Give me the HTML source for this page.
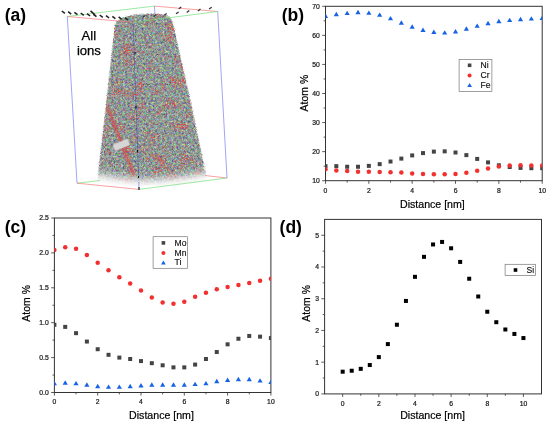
<!DOCTYPE html>
<html><head><meta charset="utf-8"><title>Figure</title>
<style>html,body{margin:0;padding:0;background:#fff}svg{display:block}</style></head>
<body>
<svg width="550" height="426" viewBox="0 0 550 426" style="font-family:'Liberation Sans',sans-serif">
<rect width="550" height="426" fill="#fff"/>
<defs>
<filter id="nz" x="0" y="0" width="100%" height="100%" color-interpolation-filters="sRGB"><feTurbulence type="fractalNoise" baseFrequency="0.9" numOctaves="1" seed="7" result="ta"/><feColorMatrix in="ta" type="matrix" values="1 0 0 0 0  0 1 0 0 0  0 0 1 0 0  0 0 0 0 1" result="a"/><feTurbulence type="fractalNoise" baseFrequency="0.43" numOctaves="1" seed="31" result="tb"/><feColorMatrix in="tb" type="matrix" values="1 0 0 0 0  0 1 0 0 0  0 0 1 0 0  0 0 0 0 1" result="b"/><feComposite in="a" in2="b" operator="arithmetic" k1="0" k2="0.7" k3="0.78" k4="-0.165" result="m"/><feColorMatrix in="m" type="matrix" values="1 0 0 0 -0.025  0 1 0 0 0.025  0 0 1 0 0.010  0 0 0 0 1" result="c9"/><feColorMatrix in="c9" type="saturate" values="0.78" result="c"/><feTurbulence type="fractalNoise" baseFrequency="0.09" numOctaves="2" seed="11" result="lf"/><feColorMatrix in="lf" type="matrix" values="0 0 0 0 0.92  0 0 0 0 0.25  0 0 0 0 0.22  3.2 0 0 0 -1.62" result="red"/><feTurbulence type="fractalNoise" baseFrequency="0.7" numOctaves="1" seed="23" result="hf"/><feColorMatrix in="hf" type="matrix" values="0 0 0 0 1  0 0 0 0 1  0 0 0 0 1  0 6 0 0 -2.75" result="hfa"/><feComposite in="red" in2="hfa" operator="in" result="redn"/><feComposite in="redn" in2="c" operator="over" result="cc"/><feGaussianBlur in="SourceGraphic" stdDeviation="1.1" result="sg"/><feTurbulence type="fractalNoise" baseFrequency="0.9" numOctaves="1" seed="5" result="en"/><feColorMatrix in="en" type="matrix" values="0 0 0 0 0  0 0 0 0 0  0 0 0 0 0  0 0 0 2.2 -0.6" result="ena"/><feComposite in="sg" in2="ena" operator="arithmetic" k1="0" k2="2" k3="0.8" k4="-1" result="sga"/><feComposite in="cc" in2="sga" operator="in"/></filter>
<filter id="mb" x="-10%" y="-10%" width="120%" height="120%"><feGaussianBlur stdDeviation="4"/></filter>
<mask id="cm" maskUnits="userSpaceOnUse" x="80" y="0" width="150" height="200" style="mask-type:luminance"><path d="M70 -20H240V166Q215 171 190 175.5Q160 180.5 139 179.5Q115 178 70 169Z" fill="#fff" filter="url(#mb)"/></mask>
<filter id="bl1"><feGaussianBlur stdDeviation="0.9"/></filter>
</defs>
<g fill="none" stroke-width="0.7">
<path d="M67.3 16.5L154.4 6.1" stroke="#72e07a"/>
<path d="M154.4 6.1L217.7 11.5" stroke="#f47a7a"/>
<path d="M154.4 6.1L155 14" stroke="#7d7df2"/>
<path d="M227 178L205 175.5" stroke="#f47a7a"/>
<path d="M77 183.2L100 180.5" stroke="#72e07a"/>
</g>
<g mask="url(#cm)"><path d="M114.8 24 Q117 18.5 130 15.3 Q147 12.6 163 14 Q170.5 15.4 172.6 21.5 L192 107 L208.5 186 L96.5 186 L105.6 107 Z" fill="#000" filter="url(#nz)"/>
<clipPath id="cc"><path d="M114.8 24 Q117 18.5 130 15.3 Q147 12.6 163 14 Q170.5 15.4 172.6 21.5 L192 107 L208.5 186 L96.5 186 L105.6 107 Z"/></clipPath>
<g clip-path="url(#cc)"><g filter="url(#bl1)" stroke="#f03030" fill="none" stroke-linecap="round">
<path d="M107 106L134 175" stroke-width="2" opacity="0.85"/>
<path d="M152 154L179 179" stroke-width="2" opacity="0.35"/>
</g></g>
<path d="M133 22L139 186" stroke="#3838b8" stroke-width="0.9" opacity="0.48" fill="none"/>
<path d="M135 52v2.5M136 106v2.5M137.5 150v2.5" stroke="#111" stroke-width="1.1" fill="none"/>
</g>
<g fill="none" stroke-width="0.7">
<path d="M67.3 16.5L77 183.2" stroke="#7d7df2"/>
<path d="M217.7 11.5L227 178" stroke="#7d7df2"/>
<path d="M138.8 182L139 189.4" stroke="#7d7df2"/>
<path d="M67.3 16.5L133 22.4" stroke="#f47a7a"/>
<path d="M133 22.4L217.7 11.5" stroke="#72e07a"/>
<path d="M77 183.2L139 189.4" stroke="#f47a7a"/>
<path d="M139 189.4L227 178" stroke="#72e07a"/>
</g>
<path d="M61.8 11.0l3.1 2.4M68.1 11.7l3.1 2.4M74.4 12.3l3.1 2.4M80.7 13.0l3.1 2.4M87.0 13.6l3.1 2.4M93.4 14.3l3.1 2.4M99.7 15.0l3.1 2.4M106.0 15.6l3.1 2.4M112.3 16.3l3.1 2.4M118.6 16.9l3.1 2.4M125.0 17.6l3.1 2.4M90.5 10.8l4.5 4" stroke="#222" stroke-width="1.55" fill="none"/>
<path d="M142.7 17.3l2.6 -1.9M153.7 16.4l2.6 -1.9M164.1 15.3l2.6 -1.9M176.0 13.8l2.6 -1.9M178.7 8.8l2.6 -1.9M186.7 12.4l2.6 -1.9M197.9 11.0l2.6 -1.9M209.1 9.1l2.6 -1.9" stroke="#333" stroke-width="1.25" fill="none"/>
<path d="M139 187v3M138.5 176v2" stroke="#111" stroke-width="1.1" fill="none"/>
<rect x="-8" y="-3.2" width="16" height="6.4" rx="1" fill="#d6d6d6" stroke="#bdbdbd" stroke-width="0.4" transform="translate(121.3 144.8) rotate(-22)"/>
<text font-size="13.1" fill="#000" stroke="#000" stroke-width="0.25" text-anchor="middle"><tspan x="88.8" y="40.4">All</tspan><tspan x="88.9" y="55.1">ions</tspan></text>
<g>
<rect x="325.5" y="6.3" width="216.7" height="174.4" fill="none" stroke="#333333" stroke-width="1"/>
<path d="M325.5 180.7v3.1M368.84 180.7v3.1M412.18 180.7v3.1M455.52 180.7v3.1M498.86 180.7v3.1M542.2 180.7v3.1M347.17 180.7v1.9M390.51 180.7v1.9M433.85 180.7v1.9M477.19 180.7v1.9M520.53 180.7v1.9M325.5 180.7h-3.3M325.5 151.63h-3.3M325.5 122.57h-3.3M325.5 93.5h-3.3M325.5 64.43h-3.3M325.5 35.37h-3.3M325.5 6.3h-3.3M325.5 166.17h-1.9M325.5 137.1h-1.9M325.5 108.03h-1.9M325.5 78.97h-1.9M325.5 49.9h-1.9M325.5 20.83h-1.9" stroke="#333333" stroke-width="0.8" fill="none"/>
<g font-size="6.8" fill="#1a1a1a" stroke="#1a1a1a" stroke-width="0.22" text-anchor="middle">
<text x="325.5" y="192.5">0</text>
<text x="368.84" y="192.5">2</text>
<text x="412.18" y="192.5">4</text>
<text x="455.52" y="192.5">6</text>
<text x="498.86" y="192.5">8</text>
<text x="542.2" y="192.5">10</text>
</g>
<g font-size="6.8" fill="#1a1a1a" stroke="#1a1a1a" stroke-width="0.22" text-anchor="end">
<text x="319.9" y="183.15">10</text>
<text x="319.9" y="154.08">20</text>
<text x="319.9" y="125.02">30</text>
<text x="319.9" y="95.95">40</text>
<text x="319.9" y="66.88">50</text>
<text x="319.9" y="37.82">60</text>
<text x="319.9" y="8.75">70</text>
</g>
<text x="432.4" y="207.5" font-size="10.6" fill="#000" stroke="#000" stroke-width="0.2" text-anchor="middle">Distance [nm]</text>
<text transform="translate(307.8 93.1) rotate(-90)" font-size="10.4" letter-spacing="0.1" fill="#000" stroke="#000" stroke-width="0.2" text-anchor="middle">Atom %</text>
<clipPath id="cp331"><rect x="325.5" y="6.3" width="216.7" height="174.4"/></clipPath>
<g clip-path="url(#cp331)">
<polygon points="325.5,13.58 322.9,17.98 328.1,17.98" fill="#1763e6"/>
<polygon points="336.33,11.84 333.73,16.24 338.94,16.24" fill="#1763e6"/>
<polygon points="347.17,10.68 344.57,15.08 349.77,15.08" fill="#1763e6"/>
<polygon points="358,9.8 355.4,14.2 360.61,14.2" fill="#1763e6"/>
<polygon points="368.84,10.39 366.24,14.79 371.44,14.79" fill="#1763e6"/>
<polygon points="379.68,12.42 377.07,16.82 382.28,16.82" fill="#1763e6"/>
<polygon points="390.51,15.91 387.91,20.31 393.11,20.31" fill="#1763e6"/>
<polygon points="401.35,20.27 398.75,24.67 403.95,24.67" fill="#1763e6"/>
<polygon points="412.18,24.34 409.58,28.74 414.78,28.74" fill="#1763e6"/>
<polygon points="423.02,27.53 420.42,31.93 425.62,31.93" fill="#1763e6"/>
<polygon points="433.85,29.57 431.25,33.97 436.45,33.97" fill="#1763e6"/>
<polygon points="444.69,30.15 442.09,34.55 447.29,34.55" fill="#1763e6"/>
<polygon points="455.52,28.99 452.92,33.39 458.12,33.39" fill="#1763e6"/>
<polygon points="466.36,26.37 463.75,30.77 468.96,30.77" fill="#1763e6"/>
<polygon points="477.19,23.47 474.59,27.87 479.79,27.87" fill="#1763e6"/>
<polygon points="488.03,20.85 485.43,25.25 490.63,25.25" fill="#1763e6"/>
<polygon points="498.86,18.81 496.26,23.21 501.46,23.21" fill="#1763e6"/>
<polygon points="509.7,17.65 507.1,22.05 512.3,22.05" fill="#1763e6"/>
<polygon points="520.53,16.78 517.93,21.18 523.13,21.18" fill="#1763e6"/>
<polygon points="531.37,16.2 528.76,20.6 533.97,20.6" fill="#1763e6"/>
<polygon points="542.2,15.62 539.6,20.02 544.8,20.02" fill="#1763e6"/>
<rect x="323.5" y="164.17" width="4" height="4" fill="#444444"/>
<rect x="334.33" y="164.17" width="4" height="4" fill="#444444"/>
<rect x="345.17" y="164.75" width="4" height="4" fill="#444444"/>
<rect x="356" y="164.75" width="4" height="4" fill="#444444"/>
<rect x="366.84" y="163.88" width="4" height="4" fill="#444444"/>
<rect x="377.68" y="162.13" width="4" height="4" fill="#444444"/>
<rect x="388.51" y="159.52" width="4" height="4" fill="#444444"/>
<rect x="399.35" y="156.61" width="4" height="4" fill="#444444"/>
<rect x="410.18" y="153.41" width="4" height="4" fill="#444444"/>
<rect x="421.02" y="151.09" width="4" height="4" fill="#444444"/>
<rect x="431.85" y="149.63" width="4" height="4" fill="#444444"/>
<rect x="442.69" y="149.34" width="4" height="4" fill="#444444"/>
<rect x="453.52" y="150.51" width="4" height="4" fill="#444444"/>
<rect x="464.36" y="153.12" width="4" height="4" fill="#444444"/>
<rect x="475.19" y="156.9" width="4" height="4" fill="#444444"/>
<rect x="486.03" y="160.39" width="4" height="4" fill="#444444"/>
<rect x="496.86" y="163.29" width="4" height="4" fill="#444444"/>
<rect x="507.7" y="165.04" width="4" height="4" fill="#444444"/>
<rect x="518.53" y="165.91" width="4" height="4" fill="#444444"/>
<rect x="529.37" y="166.2" width="4" height="4" fill="#444444"/>
<rect x="540.2" y="166.2" width="4" height="4" fill="#444444"/>
<circle cx="325.5" cy="169.36" r="2.25" fill="#f23030"/>
<circle cx="336.33" cy="170.53" r="2.25" fill="#f23030"/>
<circle cx="347.17" cy="171.11" r="2.25" fill="#f23030"/>
<circle cx="358" cy="171.69" r="2.25" fill="#f23030"/>
<circle cx="368.84" cy="171.69" r="2.25" fill="#f23030"/>
<circle cx="379.68" cy="171.98" r="2.25" fill="#f23030"/>
<circle cx="390.51" cy="172.27" r="2.25" fill="#f23030"/>
<circle cx="401.35" cy="172.56" r="2.25" fill="#f23030"/>
<circle cx="412.18" cy="173.43" r="2.25" fill="#f23030"/>
<circle cx="423.02" cy="174.01" r="2.25" fill="#f23030"/>
<circle cx="433.85" cy="174.31" r="2.25" fill="#f23030"/>
<circle cx="444.69" cy="174.31" r="2.25" fill="#f23030"/>
<circle cx="455.52" cy="174.01" r="2.25" fill="#f23030"/>
<circle cx="466.36" cy="172.85" r="2.25" fill="#f23030"/>
<circle cx="477.19" cy="170.82" r="2.25" fill="#f23030"/>
<circle cx="488.03" cy="168.49" r="2.25" fill="#f23030"/>
<circle cx="498.86" cy="166.46" r="2.25" fill="#f23030"/>
<circle cx="509.7" cy="165.59" r="2.25" fill="#f23030"/>
<circle cx="520.53" cy="165.29" r="2.25" fill="#f23030"/>
<circle cx="531.37" cy="165.59" r="2.25" fill="#f23030"/>
<circle cx="542.2" cy="165.59" r="2.25" fill="#f23030"/>
</g>
<rect x="459.1" y="59.4" width="32.8" height="32.1" fill="#fff" stroke="#777" stroke-width="0.7"/>
<rect x="467.8" y="63.5" width="3.6" height="3.6" fill="#444444"/>
<text x="480.5" y="67.9" font-size="8.6" fill="#111" stroke="#111" stroke-width="0.15">Ni</text>
<circle cx="469.6" cy="75.4" r="2.02" fill="#f23030"/>
<text x="480.5" y="78" font-size="8.6" fill="#111" stroke="#111" stroke-width="0.15">Cr</text>
<polygon points="469.6,83.06 467.26,87.02 471.94,87.02" fill="#1763e6"/>
<text x="480.5" y="88" font-size="8.6" fill="#111" stroke="#111" stroke-width="0.15">Fe</text>
</g>
<g>
<rect x="54.4" y="218" width="216.5" height="174.5" fill="none" stroke="#333333" stroke-width="1"/>
<path d="M54.4 392.5v3.1M97.7 392.5v3.1M141 392.5v3.1M184.3 392.5v3.1M227.6 392.5v3.1M270.9 392.5v3.1M76.05 392.5v1.9M119.35 392.5v1.9M162.65 392.5v1.9M205.95 392.5v1.9M249.25 392.5v1.9M54.4 392.5h-3.3M54.4 357.6h-3.3M54.4 322.7h-3.3M54.4 287.8h-3.3M54.4 252.9h-3.3M54.4 218h-3.3M54.4 375.05h-1.9M54.4 340.15h-1.9M54.4 305.25h-1.9M54.4 270.35h-1.9M54.4 235.45h-1.9" stroke="#333333" stroke-width="0.8" fill="none"/>
<g font-size="6.8" fill="#1a1a1a" stroke="#1a1a1a" stroke-width="0.22" text-anchor="middle">
<text x="54.4" y="404.3">0</text>
<text x="97.7" y="404.3">2</text>
<text x="141" y="404.3">4</text>
<text x="184.3" y="404.3">6</text>
<text x="227.6" y="404.3">8</text>
<text x="270.9" y="404.3">10</text>
</g>
<g font-size="6.8" fill="#1a1a1a" stroke="#1a1a1a" stroke-width="0.22" text-anchor="end">
<text x="48.8" y="394.95">0.0</text>
<text x="48.8" y="360.05">0.5</text>
<text x="48.8" y="325.15">1.0</text>
<text x="48.8" y="290.25">1.5</text>
<text x="48.8" y="255.35">2.0</text>
<text x="48.8" y="220.45">2.5</text>
</g>
<text x="161.5" y="418.8" font-size="10.6" fill="#000" stroke="#000" stroke-width="0.2" text-anchor="middle">Distance [nm]</text>
<text transform="translate(29.9 303.3) rotate(-90)" font-size="10.4" letter-spacing="0.1" fill="#000" stroke="#000" stroke-width="0.2" text-anchor="middle">Atom %</text>
<clipPath id="cp272"><rect x="54.4" y="218" width="216.5" height="174.5"/></clipPath>
<g clip-path="url(#cp272)">
<polygon points="54.4,380.97 51.8,385.37 57,385.37" fill="#1763e6"/>
<polygon points="65.22,380.27 62.62,384.67 67.82,384.67" fill="#1763e6"/>
<polygon points="76.05,380.97 73.45,385.37 78.65,385.37" fill="#1763e6"/>
<polygon points="86.88,382.36 84.28,386.76 89.47,386.76" fill="#1763e6"/>
<polygon points="97.7,383.76 95.1,388.16 100.3,388.16" fill="#1763e6"/>
<polygon points="108.52,384.46 105.92,388.86 111.12,388.86" fill="#1763e6"/>
<polygon points="119.35,384.46 116.75,388.86 121.95,388.86" fill="#1763e6"/>
<polygon points="130.17,383.76 127.57,388.16 132.77,388.16" fill="#1763e6"/>
<polygon points="141,383.06 138.4,387.46 143.6,387.46" fill="#1763e6"/>
<polygon points="151.82,382.36 149.22,386.76 154.42,386.76" fill="#1763e6"/>
<polygon points="162.65,382.36 160.05,386.76 165.25,386.76" fill="#1763e6"/>
<polygon points="173.47,382.36 170.88,386.76 176.07,386.76" fill="#1763e6"/>
<polygon points="184.3,382.36 181.7,386.76 186.9,386.76" fill="#1763e6"/>
<polygon points="195.12,381.66 192.53,386.06 197.72,386.06" fill="#1763e6"/>
<polygon points="205.95,380.97 203.35,385.37 208.55,385.37" fill="#1763e6"/>
<polygon points="216.77,378.87 214.17,383.27 219.37,383.27" fill="#1763e6"/>
<polygon points="227.6,377.48 225,381.88 230.2,381.88" fill="#1763e6"/>
<polygon points="238.42,376.78 235.82,381.18 241.02,381.18" fill="#1763e6"/>
<polygon points="249.25,376.78 246.65,381.18 251.85,381.18" fill="#1763e6"/>
<polygon points="260.07,378.17 257.47,382.57 262.67,382.57" fill="#1763e6"/>
<polygon points="270.9,379.57 268.3,383.97 273.5,383.97" fill="#1763e6"/>
<rect x="52.4" y="322.79" width="4" height="4" fill="#444444"/>
<rect x="63.22" y="324.89" width="4" height="4" fill="#444444"/>
<rect x="74.05" y="331.17" width="4" height="4" fill="#444444"/>
<rect x="84.88" y="339.55" width="4" height="4" fill="#444444"/>
<rect x="95.7" y="347.22" width="4" height="4" fill="#444444"/>
<rect x="106.52" y="352.81" width="4" height="4" fill="#444444"/>
<rect x="117.35" y="355.6" width="4" height="4" fill="#444444"/>
<rect x="128.17" y="357" width="4" height="4" fill="#444444"/>
<rect x="139" y="359.09" width="4" height="4" fill="#444444"/>
<rect x="149.82" y="361.18" width="4" height="4" fill="#444444"/>
<rect x="160.65" y="363.28" width="4" height="4" fill="#444444"/>
<rect x="171.47" y="365.37" width="4" height="4" fill="#444444"/>
<rect x="182.3" y="365.37" width="4" height="4" fill="#444444"/>
<rect x="193.12" y="362.58" width="4" height="4" fill="#444444"/>
<rect x="203.95" y="357" width="4" height="4" fill="#444444"/>
<rect x="214.77" y="350.02" width="4" height="4" fill="#444444"/>
<rect x="225.6" y="342.34" width="4" height="4" fill="#444444"/>
<rect x="236.42" y="336.75" width="4" height="4" fill="#444444"/>
<rect x="247.25" y="333.96" width="4" height="4" fill="#444444"/>
<rect x="258.07" y="334.66" width="4" height="4" fill="#444444"/>
<rect x="268.9" y="336.06" width="4" height="4" fill="#444444"/>
<circle cx="54.4" cy="250.11" r="2.25" fill="#f23030"/>
<circle cx="65.22" cy="247.32" r="2.25" fill="#f23030"/>
<circle cx="76.05" cy="248.71" r="2.25" fill="#f23030"/>
<circle cx="86.88" cy="254.99" r="2.25" fill="#f23030"/>
<circle cx="97.7" cy="262.67" r="2.25" fill="#f23030"/>
<circle cx="108.52" cy="270.35" r="2.25" fill="#f23030"/>
<circle cx="119.35" cy="277.33" r="2.25" fill="#f23030"/>
<circle cx="130.17" cy="283.61" r="2.25" fill="#f23030"/>
<circle cx="141" cy="290.59" r="2.25" fill="#f23030"/>
<circle cx="151.82" cy="297.57" r="2.25" fill="#f23030"/>
<circle cx="162.65" cy="302.46" r="2.25" fill="#f23030"/>
<circle cx="173.47" cy="303.85" r="2.25" fill="#f23030"/>
<circle cx="184.3" cy="301.76" r="2.25" fill="#f23030"/>
<circle cx="195.12" cy="296.87" r="2.25" fill="#f23030"/>
<circle cx="205.95" cy="292.69" r="2.25" fill="#f23030"/>
<circle cx="216.77" cy="289.2" r="2.25" fill="#f23030"/>
<circle cx="227.6" cy="287.1" r="2.25" fill="#f23030"/>
<circle cx="238.42" cy="285.01" r="2.25" fill="#f23030"/>
<circle cx="249.25" cy="282.91" r="2.25" fill="#f23030"/>
<circle cx="260.07" cy="280.82" r="2.25" fill="#f23030"/>
<circle cx="270.9" cy="278.73" r="2.25" fill="#f23030"/>
</g>
<rect x="153.1" y="236.7" width="34.5" height="31.6" fill="#fff" stroke="#777" stroke-width="0.7"/>
<rect x="161.6" y="241.1" width="3.6" height="3.6" fill="#444444"/>
<text x="174.5" y="245.5" font-size="8.6" fill="#111" stroke="#111" stroke-width="0.15">Mo</text>
<circle cx="163.4" cy="253" r="2.02" fill="#f23030"/>
<text x="174.5" y="255.6" font-size="8.6" fill="#111" stroke="#111" stroke-width="0.15">Mn</text>
<polygon points="163.4,260.46 161.06,264.42 165.74,264.42" fill="#1763e6"/>
<text x="174.5" y="265.4" font-size="8.6" fill="#111" stroke="#111" stroke-width="0.15">Ti</text>
</g>
<g>
<rect x="324.6" y="219.4" width="216.9" height="174.5" fill="none" stroke="#333333" stroke-width="1"/>
<path d="M342.68 393.9v3.1M378.83 393.9v3.1M414.98 393.9v3.1M451.12 393.9v3.1M487.27 393.9v3.1M523.42 393.9v3.1M360.75 393.9v1.9M396.9 393.9v1.9M433.05 393.9v1.9M469.2 393.9v1.9M505.35 393.9v1.9M324.6 393.9h-3.3M324.6 362.17h-3.3M324.6 330.45h-3.3M324.6 298.72h-3.3M324.6 266.99h-3.3M324.6 235.26h-3.3M324.6 378.04h-1.9M324.6 346.31h-1.9M324.6 314.58h-1.9M324.6 282.85h-1.9M324.6 251.13h-1.9" stroke="#333333" stroke-width="0.8" fill="none"/>
<g font-size="6.8" fill="#1a1a1a" stroke="#1a1a1a" stroke-width="0.22" text-anchor="middle">
<text x="342.68" y="405.8">0</text>
<text x="378.83" y="405.8">2</text>
<text x="414.98" y="405.8">4</text>
<text x="451.12" y="405.8">6</text>
<text x="487.27" y="405.8">8</text>
<text x="523.42" y="405.8">10</text>
</g>
<g font-size="6.8" fill="#1a1a1a" stroke="#1a1a1a" stroke-width="0.22" text-anchor="end">
<text x="319" y="396.35">0</text>
<text x="319" y="364.62">1</text>
<text x="319" y="332.9">2</text>
<text x="319" y="301.17">3</text>
<text x="319" y="269.44">4</text>
<text x="319" y="237.71">5</text>
</g>
<text x="432.6" y="418.8" font-size="10.6" fill="#000" stroke="#000" stroke-width="0.2" text-anchor="middle">Distance [nm]</text>
<text transform="translate(309.6 303.3) rotate(-90)" font-size="10.4" letter-spacing="0.1" fill="#000" stroke="#000" stroke-width="0.2" text-anchor="middle">Atom %</text>
<clipPath id="cp544"><rect x="324.6" y="219.4" width="216.9" height="174.5"/></clipPath>
<g clip-path="url(#cp544)">
<rect x="340.68" y="369.69" width="4" height="4" fill="#000000"/>
<rect x="349.71" y="368.74" width="4" height="4" fill="#000000"/>
<rect x="358.75" y="366.84" width="4" height="4" fill="#000000"/>
<rect x="367.79" y="363.03" width="4" height="4" fill="#000000"/>
<rect x="376.83" y="355.1" width="4" height="4" fill="#000000"/>
<rect x="385.86" y="342.09" width="4" height="4" fill="#000000"/>
<rect x="394.9" y="322.73" width="4" height="4" fill="#000000"/>
<rect x="403.94" y="298.94" width="4" height="4" fill="#000000"/>
<rect x="412.98" y="274.83" width="4" height="4" fill="#000000"/>
<rect x="422.01" y="254.84" width="4" height="4" fill="#000000"/>
<rect x="431.05" y="242.46" width="4" height="4" fill="#000000"/>
<rect x="440.09" y="239.93" width="4" height="4" fill="#000000"/>
<rect x="449.12" y="246.27" width="4" height="4" fill="#000000"/>
<rect x="458.16" y="259.91" width="4" height="4" fill="#000000"/>
<rect x="467.2" y="276.73" width="4" height="4" fill="#000000"/>
<rect x="476.24" y="294.5" width="4" height="4" fill="#000000"/>
<rect x="485.27" y="309.73" width="4" height="4" fill="#000000"/>
<rect x="494.31" y="320.2" width="4" height="4" fill="#000000"/>
<rect x="503.35" y="327.49" width="4" height="4" fill="#000000"/>
<rect x="512.39" y="331.94" width="4" height="4" fill="#000000"/>
<rect x="521.42" y="336.06" width="4" height="4" fill="#000000"/>
</g>
<rect x="505.1" y="264.3" width="30.5" height="11.3" fill="#fff" stroke="#777" stroke-width="0.7"/>
<rect x="513.7" y="268.2" width="3.6" height="3.6" fill="#000000"/>
<text x="526.6" y="272.6" font-size="8.6" fill="#111" stroke="#111" stroke-width="0.15">Si</text>
</g>
<g font-size="17.5" font-weight="bold" fill="#000">
<text x="4.8" y="20.8">(a)</text>
<text x="281.7" y="20.8">(b)</text>
<text x="4.8" y="233.4">(c)</text>
<text x="279.6" y="233.4">(d)</text>
</g>
</svg>
</body></html>
